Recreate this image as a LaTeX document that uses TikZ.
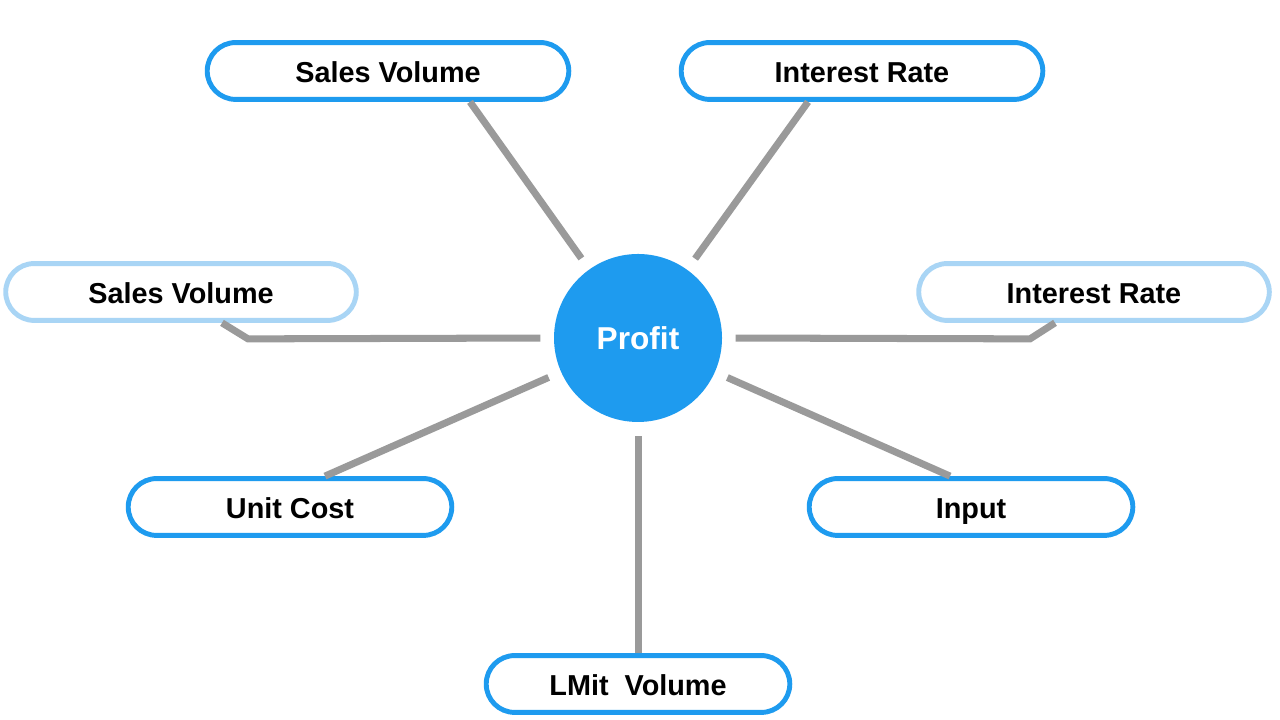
\documentclass[tikz,border=0pt]{standalone}
\usepackage{fontspec}
\setmainfont{Liberation Sans}
\usepackage{xcolor}
\usetikzlibrary{shapes,positioning}

\definecolor{hubblue}{HTML}{1E9BEF}
\definecolor{paleblue}{HTML}{A9D5F5}
\definecolor{linkgray}{HTML}{9A9A9A}

\begin{document}
\begin{tikzpicture}[
	factor/.style={draw=hubblue, line width=1.4pt, rounded rectangle, fill=white, minimum height=0.55cm, text height=1.5ex, text depth=0.3ex, font=\fontsize{8.2}{10}\selectfont\bfseries},
	soft/.style={factor, draw=paleblue},
	link/.style={draw=linkgray, line width=2pt, shorten >=0.13cm}]
	\fill[white] (0,0) rectangle (12.8,7.2);

	\node[circle, fill=hubblue, minimum size=1.68cm, text=white, font=\fontsize{9}{11}\selectfont\bfseries](Profit) at (6.38,3.82){Profit};

	\node[factor, minimum width=3.85cm](SalesTop) at (3.88,6.49){Sales Volume};
	\node[factor, minimum width=3.85cm](RateTop) at (8.62,6.49){Interest Rate};
	\node[soft, minimum width=3.74cm](SalesMid) at (1.81,4.28){Sales Volume};
	\node[soft, minimum width=3.74cm](RateMid) at (10.94,4.28){Interest Rate};
	\node[factor, minimum width=3.47cm](UnitCost) at (2.90,2.13){Unit Cost};
	\node[factor, minimum width=3.47cm](Input) at (9.71,2.13){Input};
	\node[factor, minimum width=3.27cm](LMit) at (6.38,0.36){LMit\ \ Volume};

	% spokes
	\draw[link] ([xshift=8.2mm]SalesTop.south) -- (Profit);
	\draw[link] ([xshift=-5.4mm]RateTop.south) -- (Profit);
	\draw[link] ([xshift=4.1mm]SalesMid.south) -- ++(0.26,-0.16) -- (Profit.west);
	\draw[link] ([xshift=-3.9mm]RateMid.south) -- ++(-0.25,-0.16) -- (Profit.east);
	\draw[link] ([xshift=3.5mm]UnitCost.north) -- (Profit);
	\draw[link] ([xshift=-2.1mm]Input.north) -- (Profit);
	\draw[link] (LMit.north) -- (Profit);
\end{tikzpicture}
\end{document}
